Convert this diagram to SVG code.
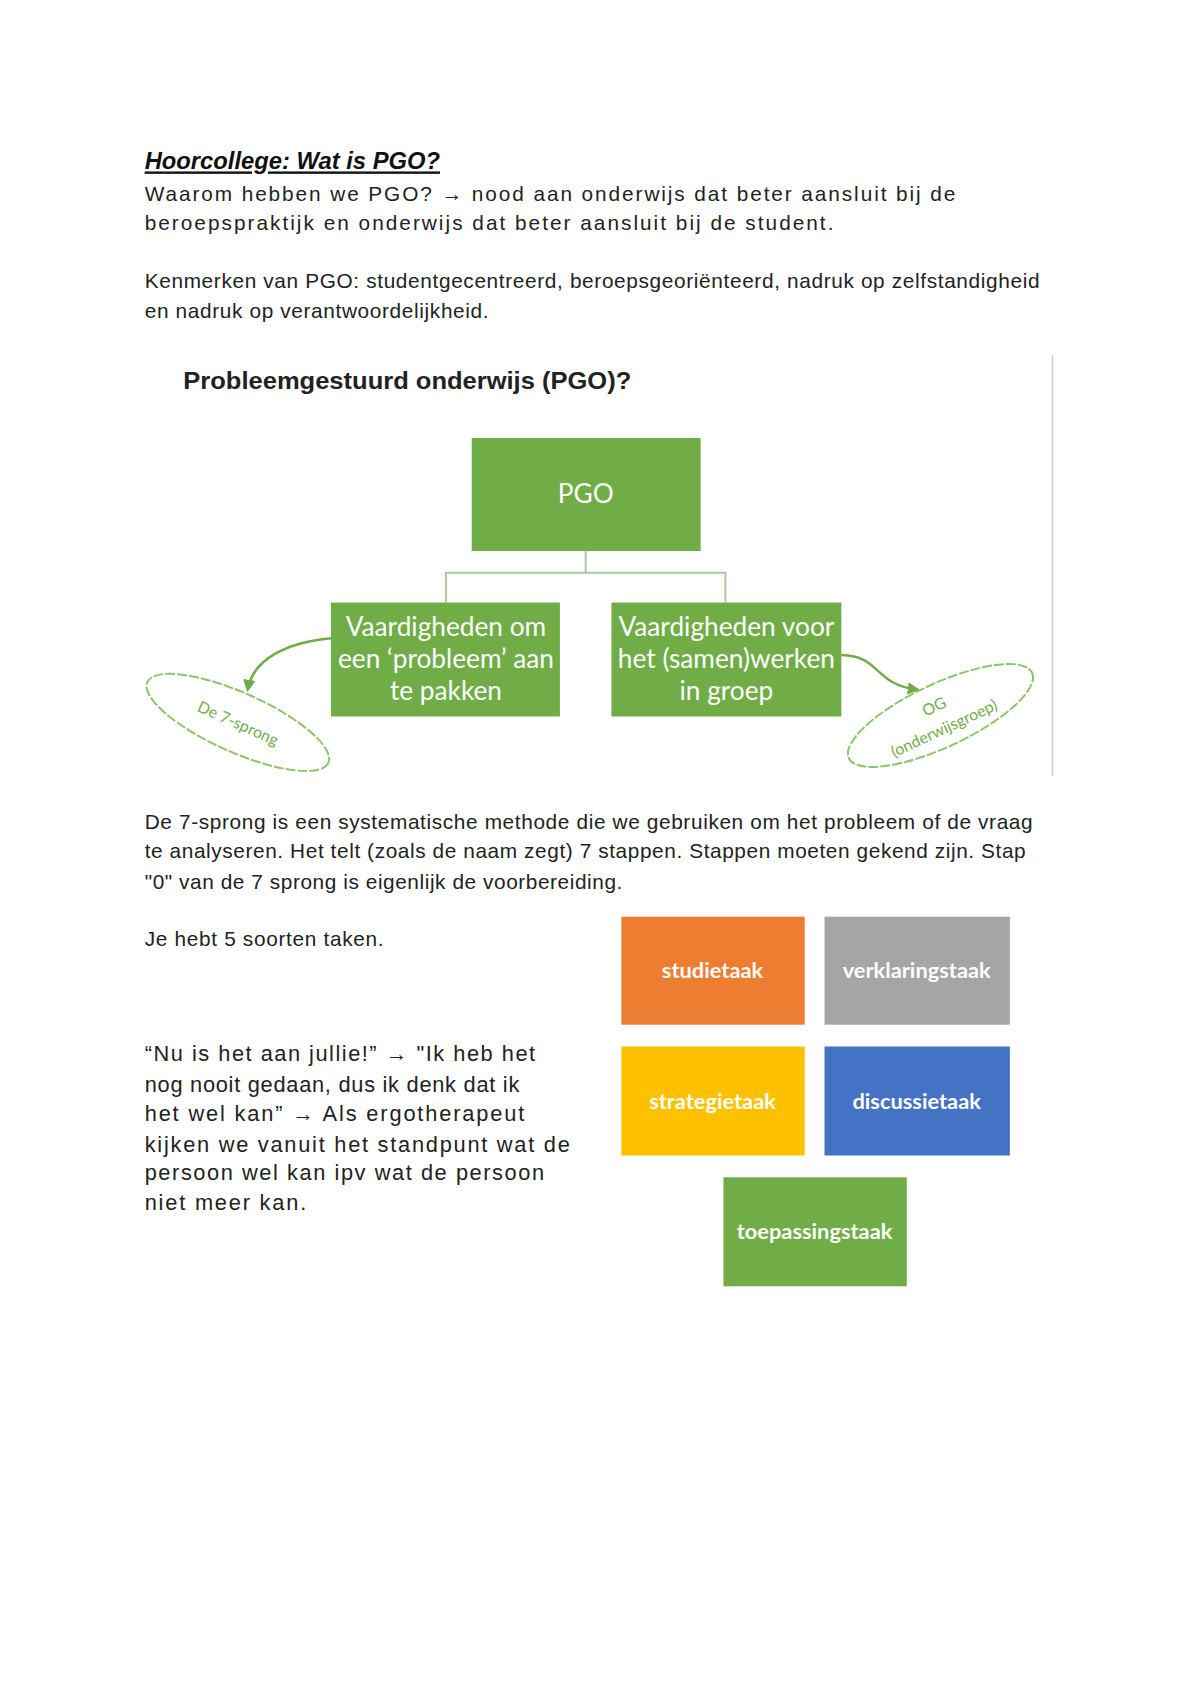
<svg xmlns="http://www.w3.org/2000/svg" width="1200" height="1696" viewBox="0 0 1200 1696">
<defs>
<style>
.b{font-family:"Liberation Sans",Arial,sans-serif;font-size:21px;fill:#222}
.q{font-family:"Liberation Sans",Arial,sans-serif;font-size:22px;fill:#222}
.bx{font-family:Lato,"Open Sans",sans-serif;font-size:26.5px;fill:#fff;text-anchor:middle}
.tk{font-family:Lato,"Open Sans",sans-serif;font-size:22px;fill:#fff;text-anchor:middle;font-weight:bold}
.el{fill:none;stroke:#8cc56a;stroke-width:2;stroke-dasharray:10 2}
.et{font-family:Lato,"Open Sans",sans-serif;font-size:16px;fill:#70ad47;text-anchor:middle}
.cn{fill:none;stroke:#a9c99a;stroke-width:2}
.ar{fill:none;stroke:#70ad47;stroke-width:2.5}
</style>
<marker id="m" viewBox="0 0 10 10" refX="8" refY="5" markerWidth="5" markerHeight="5" orient="auto"><path d="M0,0L10,5L0,10z" fill="#70ad47"/></marker>
</defs>
<rect width="1200" height="1696" fill="#fff"/>
<g transform="scale(0.991)">
<text x="146" y="171" font-family="Liberation Sans,Arial,sans-serif" font-size="24" font-weight="bold" font-style="italic" text-decoration="underline" fill="#111">Hoorcollege: Wat is PGO?</text>
<text class="b" x="146" y="203" textLength="818" lengthAdjust="spacing">Waarom hebben we PGO? → nood aan onderwijs dat beter aansluit bij de</text>
<text class="b" x="146" y="232" textLength="695" lengthAdjust="spacing">beroepspraktijk en onderwijs dat beter aansluit bij de student.</text>
<text class="b" x="146" y="291" textLength="903" lengthAdjust="spacing">Kenmerken van PGO: studentgecentreerd, beroepsgeoriënteerd, nadruk op zelfstandigheid</text>
<text class="b" x="146" y="321" textLength="347" lengthAdjust="spacing">en nadruk op verantwoordelijkheid.</text>
<line x1="1062" y1="358" x2="1062" y2="783" stroke="#ccc" stroke-width="1.5"/>
<text x="185" y="393" font-family="Liberation Sans,Arial,sans-serif" font-size="25" font-weight="bold" fill="#222" textLength="452" lengthAdjust="spacingAndGlyphs">Probleemgestuurd onderwijs (PGO)?</text>
<g id="connectors">
<path class="cn" d="M591,556V578M450,608V578H732V608"/>
<path class="ar" d="M334,644C290,648 255,665 250,696" marker-end="url(#m)"/>
<path class="ar" d="M849,661C890,662 880,690 926,696" marker-end="url(#m)"/>
</g>
<g id="pgo"><rect x="476" y="442" width="231" height="114" fill="#70ad47"/><text class="bx" x="591" y="508">PGO</text></g>
<g id="left"><rect x="334" y="608" width="231" height="115" fill="#70ad47"/>
<text class="bx" x="450" y="642">Vaardigheden om</text><text class="bx" x="450" y="674">een ‘probleem’ aan</text><text class="bx" x="450" y="706">te pakken</text></g>
<g id="right"><rect x="617" y="608" width="232" height="115" fill="#70ad47"/>
<text class="bx" x="733" y="642">Vaardigheden voor</text><text class="bx" x="733" y="674">het (samen)werken</text><text class="bx" x="733" y="706">in groep</text></g>
<g id="e1"><ellipse class="el" cx="240" cy="729" rx="100" ry="30" transform="rotate(24 240 729)"/>
<text class="et" x="238" y="735" transform="rotate(24 238 735)">De 7-sprong</text></g>
<g id="e2"><ellipse class="el" cx="949" cy="722" rx="102" ry="32" transform="rotate(-25 949 722)"/>
<text class="et" x="945" y="718" transform="rotate(-25 945 718)">OG</text>
<text class="et" x="955" y="740" transform="rotate(-25 955 740)">(onderwijsgroep)</text></g>
<text class="b" x="146" y="837" textLength="896" lengthAdjust="spacing">De 7-sprong is een systematische methode die we gebruiken om het probleem of de vraag</text>
<text class="b" x="146" y="866" textLength="889" lengthAdjust="spacing">te analyseren. Het telt (zoals de naam zegt) 7 stappen. Stappen moeten gekend zijn. Stap</text>
<text class="b" x="146" y="897" textLength="482" lengthAdjust="spacing">"0" van de 7 sprong is eigenlijk de voorbereiding.</text>
<text class="b" x="146" y="955" textLength="241" lengthAdjust="spacing">Je hebt 5 soorten taken.</text>
<text class="q" x="146" y="1071" textLength="394" lengthAdjust="spacing">“Nu is het aan jullie!” → "Ik heb het</text>
<text class="q" x="146" y="1102" textLength="378" lengthAdjust="spacing">nog nooit gedaan, dus ik denk dat ik</text>
<text class="q" x="146" y="1131" textLength="383" lengthAdjust="spacing">het wel kan”  → Als ergotherapeut</text>
<text class="q" x="146" y="1162" textLength="429" lengthAdjust="spacing">kijken we vanuit het standpunt wat de</text>
<text class="q" x="146" y="1191" textLength="403" lengthAdjust="spacing">persoon wel kan ipv wat de persoon</text>
<text class="q" x="146" y="1221" textLength="163" lengthAdjust="spacing">niet meer kan.</text>
<g id="t1"><rect x="627" y="925" width="185" height="109" fill="#ed7d31"/><text class="tk" x="719" y="987">studietaak</text></g>
<g id="t2"><rect x="832" y="925" width="187" height="109" fill="#a5a5a5"/><text class="tk" x="925" y="987">verklaringstaak</text></g>
<g id="t3"><rect x="627" y="1056" width="185" height="110" fill="#ffc000"/><text class="tk" x="719" y="1119">strategietaak</text></g>
<g id="t4"><rect x="832" y="1056" width="187" height="110" fill="#4472c4"/><text class="tk" x="925" y="1119">discussietaak</text></g>
<g id="t5"><rect x="730" y="1188" width="185" height="110" fill="#70ad47"/><text class="tk" x="822" y="1250">toepassingstaak</text></g>
</g>
</svg>
